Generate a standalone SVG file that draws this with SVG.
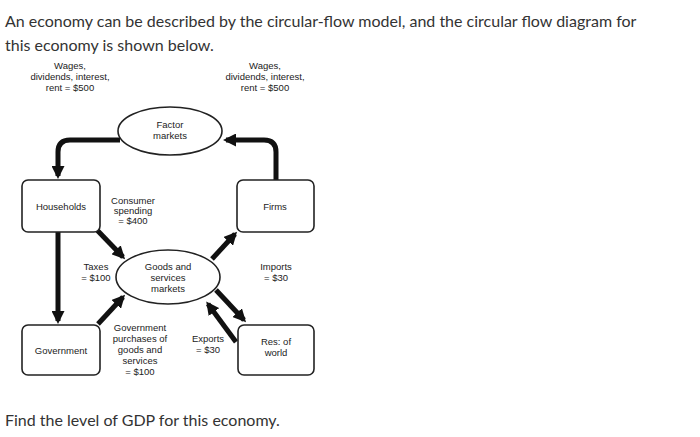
<svg xmlns="http://www.w3.org/2000/svg" width="700" height="437" viewBox="0 0 700 437">
<defs>
<marker id="ah" markerWidth="13" markerHeight="13" refX="10" refY="6.5" orient="auto" markerUnits="userSpaceOnUse"><path d="M0,0 L13,6.5 L0,13 z" fill="#111"/></marker>
<style>
.t{font-family:"Liberation Sans",Arial,sans-serif;font-size:9.5px;fill:#222;text-anchor:middle}
.n{fill:#fff;stroke:#222;stroke-width:1.6}
.c{fill:none;stroke:#111;stroke-width:5;marker-end:url(#ah)}
.h{font-family:Lato,"Open Sans",sans-serif;font-size:16px;fill:#333}
</style>
</defs>
<rect width="700" height="437" fill="#fff"/>
<text class="h" x="5" y="27">An economy can be described by the circular-flow model, and the circular flow diagram for</text>
<text class="h" x="5" y="51">this economy is shown below.</text>
<text class="h" x="5" y="426">Find the level of GDP for this economy.</text>
<g id="connectors">
<path class="c" d="M120,140 H70 Q58,140 58,152 V176"/>
<path class="c" d="M276,180 V152 Q276,140 264,140 H226"/>
<path class="c" d="M58,232 V321"/>
<path class="c" d="M97,230 L123,257"/>
<path class="c" d="M98,324 L123,297"/>
<path class="c" d="M212,259 L235,234"/>
<path class="c" d="M216,290 L244,320"/>
<path class="c" d="M236,342 L208,304"/>
</g>
<g id="factor"><ellipse class="n" cx="170" cy="131" rx="52" ry="24"/><text class="t" x="170" y="128">Factor</text><text class="t" x="170" y="139">markets</text></g>
<g id="goods"><ellipse class="n" cx="168" cy="277" rx="52" ry="27"/><text class="t" x="168" y="270">Goods and</text><text class="t" x="168" y="281">services</text><text class="t" x="168" y="292">markets</text></g>
<g id="households"><rect class="n" x="22" y="180" width="78" height="52" rx="6"/><text class="t" x="61" y="210">Households</text></g>
<g id="firms"><rect class="n" x="237" y="180" width="77" height="52" rx="6"/><text class="t" x="275" y="210">Firms</text></g>
<g id="government"><rect class="n" x="22" y="325" width="78" height="50" rx="6"/><text class="t" x="61" y="354">Government</text></g>
<g id="row"><rect class="n" x="238" y="325" width="76" height="50" rx="6"/><text class="t" x="276" y="345">Res: of</text><text class="t" x="276" y="356">world</text></g>
<g id="labels">
<text class="t" x="70" y="69">Wages,</text><text class="t" x="70" y="80">dividends, interest,</text><text class="t" x="70" y="91">rent = $500</text>
<text class="t" x="265" y="69">Wages,</text><text class="t" x="265" y="80">dividends, interest,</text><text class="t" x="265" y="91">rent = $500</text>
<text class="t" x="133" y="204">Consumer</text><text class="t" x="133" y="214">spending</text><text class="t" x="133" y="224">= $400</text>
<text class="t" x="96" y="270">Taxes</text><text class="t" x="96" y="281">= $100</text>
<text class="t" x="276" y="270">Imports</text><text class="t" x="276" y="281">= $30</text>
<text class="t" x="140" y="331">Government</text><text class="t" x="140" y="342">purchases of</text><text class="t" x="140" y="353">goods and</text><text class="t" x="140" y="364">services</text><text class="t" x="140" y="375">= $100</text>
<text class="t" x="208" y="342">Exports</text><text class="t" x="208" y="353">= $30</text>
</g>
</svg>
